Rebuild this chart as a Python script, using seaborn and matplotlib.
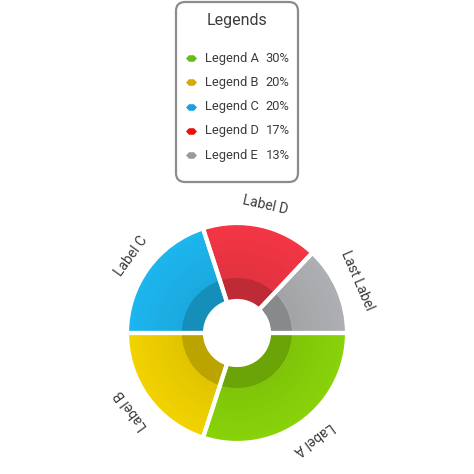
"""Donut chart with a boxed legend."""

import matplotlib

matplotlib.use("Agg")

import matplotlib.pyplot as plt
import numpy as np
import seaborn as sns
from matplotlib.patches import Circle, FancyBboxPatch
from matplotlib.path import Path

SLICE_LABELS = ["Label A", "Label B", "Label C", "Label D", "Last Label"]
LEGEND_NAMES = ["Legend A", "Legend B", "Legend C", "Legend D", "Legend E"]
SHARES = [30, 20, 20, 17, 13]
SLICE_COLORS = ["#89d30a", "#f2d300", "#1db6ef", "#f43645", "#aeb0b3"]
MARKER_COLORS = ["#6cb81e", "#d4a90c", "#1a9fe0", "#f20d0d", "#9a9a9a"]

W = H = 474
R_PX = 110  # outer radius in pixels
CX, CY = 237, H - 333  # pie centre (from bottom-left)
HOLE = 32 / R_PX
RING = 55 / R_PX

sns.set_theme(style="white")
plt.rcParams["font.family"] = ["Roboto", "DejaVu Sans"]

fig = plt.figure(figsize=(W / 100, H / 100), dpi=100)
fig.patch.set_facecolor("white")

#
# Donut
#
span = 1.25
ax = fig.add_axes(
    [
        (CX - span * R_PX) / W,
        (CY - span * R_PX) / H,
        2 * span * R_PX / W,
        2 * span * R_PX / H,
    ]
)
pie_kw = dict(startangle=0, counterclock=False)

wedges, texts = ax.pie(
    SHARES,
    labels=SLICE_LABELS,
    colors=SLICE_COLORS,
    radius=1,
    labeldistance=1.19,
    wedgeprops=dict(width=1 - HOLE, linewidth=0, zorder=1),
    textprops=dict(fontsize=10, color="#3c3c3c"),
    **pie_kw,
)

# soft shading on the outer band, darker towards the middle
n = 400
yy, xx = np.mgrid[-1 : 1 : n * 1j, -1 : 1 : n * 1j]
rr = np.hypot(xx, yy)
shade = np.zeros((n, n, 4))
shade[..., 3] = np.where(rr >= RING, np.clip((1 - rr) / (1 - RING), 0, 1) * 0.07, 0)
im = ax.imshow(shade, extent=(-1, 1, -1, 1), origin="lower", zorder=1.5)
im.set_clip_path(Circle((0, 0), 1, transform=ax.transData))

# darker inner ring
ax.pie(
    SHARES,
    colors=["black"],
    radius=RING,
    wedgeprops=dict(width=RING - HOLE, linewidth=0, alpha=0.22, zorder=2),
    **pie_kw,
)

# white separators
ax.pie(
    SHARES,
    colors=["white"],
    radius=1,
    wedgeprops=dict(width=1 - HOLE, fill=False, edgecolor="white", linewidth=3, zorder=3),
    **pie_kw,
)

for w, t in zip(wedges, texts):
    mid = (w.theta1 + w.theta2) / 2
    t.set_rotation(mid - 90)
    t.set_rotation_mode("anchor")
    t.set_ha("center")
    t.set_va("center")
    t.set_clip_on(False)

ax.set_xlim(-span, span)
ax.set_ylim(-span, span)
ax.set_aspect("equal")
ax.axis("off")

#
# Legend box
#
lax = fig.add_axes([0, 0, 1, 1], zorder=-1)
lax.set_xlim(0, W)
lax.set_ylim(H, 0)
lax.axis("off")

box = FancyBboxPatch(
    (176, 2),
    122,
    180,
    boxstyle="round,pad=0,rounding_size=9",
    facecolor="white",
    edgecolor="#8c8c8c",
    linewidth=1.6,
)
lax.add_patch(box)
lax.text(237, 20, "Legends", ha="center", va="center", fontsize=11.5, color="#3c3c3c")

hex_marker = Path(
    [(-1, 0), (-0.45, 0.6), (0.45, 0.6), (1, 0), (0.45, -0.6), (-0.45, -0.6), (-1, 0)],
    [Path.MOVETO] + [Path.LINETO] * 5 + [Path.CLOSEPOLY],
)
for i, (name, share, color) in enumerate(zip(LEGEND_NAMES, SHARES, MARKER_COLORS)):
    y = 58 + i * 24.3
    lax.scatter(191, y, marker=hex_marker, s=62, color=color, linewidths=0)
    lax.text(205, y, name, ha="left", va="center", fontsize=9.3, color="#3c3c3c")
    lax.text(265.5, y, f"{share}%", ha="left", va="center", fontsize=9.3, color="#3c3c3c")

fig.savefig("out.png", dpi=100)
plt.close(fig)
